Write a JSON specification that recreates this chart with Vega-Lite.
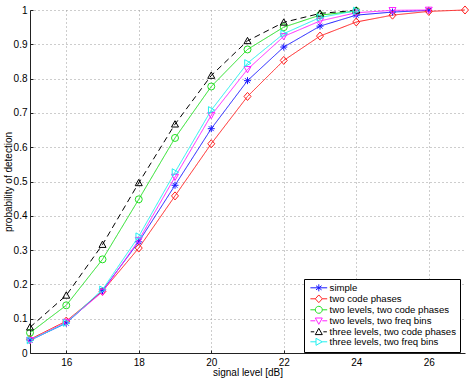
{
  "$schema": "https://vega.github.io/schema/vega-lite/v6.json",
  "width": 435,
  "height": 343,
  "autosize": "none",
  "padding": {"left": 30, "top": 10, "right": 9, "bottom": 26},
  "background": "white",
  "config": {
    "view": {"stroke": null},
    "font": "Liberation Sans",
    "axis": {
      "labelFont": "Liberation Sans",
      "titleFont": "Liberation Sans",
      "labelFontSize": 10,
      "titleFontSize": 10,
      "titleFontWeight": "normal",
      "labelColor": "#000",
      "titleColor": "#000",
      "domainColor": "#222",
      "tickColor": "#222",
      "gridColor": "#9a9a9a",
      "gridDash": [1, 3],
      "gridWidth": 1
    },
    "legend": {"labelFont": "Liberation Sans"}
  },
  "data": {
    "values": [
      {"s": "simple", "x": 15, "y": 0.037}, {"s": "simple", "x": 16, "y": 0.087}, {"s": "simple", "x": 17, "y": 0.182}, {"s": "simple", "x": 18, "y": 0.324}, {"s": "simple", "x": 19, "y": 0.489}, {"s": "simple", "x": 20, "y": 0.654}, {"s": "simple", "x": 21, "y": 0.794}, {"s": "simple", "x": 22, "y": 0.892}, {"s": "simple", "x": 23, "y": 0.953}, {"s": "simple", "x": 24, "y": 0.985}, {"s": "simple", "x": 25, "y": 0.994}, {"s": "simple", "x": 26, "y": 0.999},
      {"s": "two code phases", "x": 15, "y": 0.040}, {"s": "two code phases", "x": 16, "y": 0.093}, {"s": "two code phases", "x": 17, "y": 0.180}, {"s": "two code phases", "x": 18, "y": 0.306}, {"s": "two code phases", "x": 19, "y": 0.458}, {"s": "two code phases", "x": 20, "y": 0.610}, {"s": "two code phases", "x": 21, "y": 0.748}, {"s": "two code phases", "x": 22, "y": 0.853}, {"s": "two code phases", "x": 23, "y": 0.924}, {"s": "two code phases", "x": 24, "y": 0.965}, {"s": "two code phases", "x": 25, "y": 0.985}, {"s": "two code phases", "x": 26, "y": 0.996}, {"s": "two code phases", "x": 27, "y": 1.0},
      {"s": "two levels, two code phases", "x": 15, "y": 0.059}, {"s": "two levels, two code phases", "x": 16, "y": 0.139}, {"s": "two levels, two code phases", "x": 17, "y": 0.273}, {"s": "two levels, two code phases", "x": 18, "y": 0.448}, {"s": "two levels, two code phases", "x": 19, "y": 0.627}, {"s": "two levels, two code phases", "x": 20, "y": 0.777}, {"s": "two levels, two code phases", "x": 21, "y": 0.885}, {"s": "two levels, two code phases", "x": 22, "y": 0.950}, {"s": "two levels, two code phases", "x": 23, "y": 0.985}, {"s": "two levels, two code phases", "x": 24, "y": 0.997},
      {"s": "two levels, two freq bins", "x": 15, "y": 0.037}, {"s": "two levels, two freq bins", "x": 16, "y": 0.090}, {"s": "two levels, two freq bins", "x": 17, "y": 0.178}, {"s": "two levels, two freq bins", "x": 18, "y": 0.329}, {"s": "two levels, two freq bins", "x": 19, "y": 0.513}, {"s": "two levels, two freq bins", "x": 20, "y": 0.693}, {"s": "two levels, two freq bins", "x": 21, "y": 0.827}, {"s": "two levels, two freq bins", "x": 22, "y": 0.923}, {"s": "two levels, two freq bins", "x": 23, "y": 0.968}, {"s": "two levels, two freq bins", "x": 24, "y": 0.992}, {"s": "two levels, two freq bins", "x": 25, "y": 0.999}, {"s": "two levels, two freq bins", "x": 26, "y": 1.0},
      {"s": "three levels, two code phases", "x": 15, "y": 0.075}, {"s": "three levels, two code phases", "x": 16, "y": 0.168}, {"s": "three levels, two code phases", "x": 17, "y": 0.316}, {"s": "three levels, two code phases", "x": 18, "y": 0.496}, {"s": "three levels, two code phases", "x": 19, "y": 0.667}, {"s": "three levels, two code phases", "x": 20, "y": 0.809}, {"s": "three levels, two code phases", "x": 21, "y": 0.910}, {"s": "three levels, two code phases", "x": 22, "y": 0.964}, {"s": "three levels, two code phases", "x": 23, "y": 0.990}, {"s": "three levels, two code phases", "x": 24, "y": 0.999},
      {"s": "three levels, two freq bins", "x": 15, "y": 0.037}, {"s": "three levels, two freq bins", "x": 16, "y": 0.088}, {"s": "three levels, two freq bins", "x": 17, "y": 0.185}, {"s": "three levels, two freq bins", "x": 18, "y": 0.340}, {"s": "three levels, two freq bins", "x": 19, "y": 0.527}, {"s": "three levels, two freq bins", "x": 20, "y": 0.708}, {"s": "three levels, two freq bins", "x": 21, "y": 0.845}, {"s": "three levels, two freq bins", "x": 22, "y": 0.931}, {"s": "three levels, two freq bins", "x": 23, "y": 0.978}, {"s": "three levels, two freq bins", "x": 24, "y": 0.998}
    ]
  },
  "encoding": {
    "x": {
      "field": "x", "type": "quantitative",
      "scale": {"domain": [15, 27], "nice": false, "zero": false},
      "axis": {"values": [16, 18, 20, 22, 24, 26], "title": "signal level [dB]", "grid": true, "tickSize": -3, "labelPadding": 7, "titlePadding": 0}
    },
    "y": {
      "field": "y", "type": "quantitative",
      "scale": {"domain": [0, 1], "nice": false},
      "axis": {"values": [0, 0.1, 0.2, 0.3, 0.4, 0.5, 0.6, 0.7, 0.8, 0.9, 1], "format": ".1~f", "title": "probability of detection", "grid": true, "tickSize": -3, "labelPadding": 6, "titlePadding": 0}
    }
  },
  "layer": [
    {
      "mark": {"type": "line", "strokeWidth": 1},
      "encoding": {
        "color": {"field": "s", "type": "nominal", "legend": null,
          "scale": {"domain": ["simple", "two code phases", "two levels, two code phases", "two levels, two freq bins", "three levels, two code phases", "three levels, two freq bins"],
                    "range": ["#1a1aff", "#ff2020", "#22e022", "#ff22ff", "#000000", "#22f0f0"]}},
        "strokeDash": {"field": "s", "type": "nominal", "legend": null,
          "scale": {"domain": ["simple", "two code phases", "two levels, two code phases", "two levels, two freq bins", "three levels, two code phases", "three levels, two freq bins"],
                    "range": [[1, 0], [1, 0], [1, 0], [1, 0], [6, 4], [1, 0]]}}
      }
    },
    {
      "mark": {"type": "point", "filled": false, "size": 49, "strokeWidth": 1, "opacity": 1},
      "encoding": {
        "color": {"field": "s", "type": "nominal", "legend": null,
          "scale": {"domain": ["simple", "two code phases", "two levels, two code phases", "two levels, two freq bins", "three levels, two code phases", "three levels, two freq bins"],
                    "range": ["#1a1aff", "#ff2020", "#22e022", "#ff22ff", "#000000", "#22f0f0"]}},
        "shape": {"field": "s", "type": "nominal", "legend": null,
          "scale": {"domain": ["simple", "two code phases", "two levels, two code phases", "two levels, two freq bins", "three levels, two code phases", "three levels, two freq bins"],
                    "range": ["M-1,0L1,0M0,-1L0,1M-0.7,-0.7L0.7,0.7M-0.7,0.7L0.7,-0.7", "M0,-1.15L1,0L0,1.15L-1,0Z", "circle", "M-1,-0.8L1,-0.8L0,1Z", "M-1,0.8L1,0.8L0,-1Z", "M-0.8,-1L-0.8,1L1,0Z"]}}
      }
    },
    {
      "mark": {"type": "point", "filled": false, "size": 49, "strokeWidth": 1, "opacity": 0},
      "encoding": {
        "color": {"field": "s", "type": "nominal",
          "scale": {"domain": ["simple", "two code phases", "two levels, two code phases", "two levels, two freq bins", "three levels, two code phases", "three levels, two freq bins"],
                    "range": ["#1a1aff", "#ff2020", "#22e022", "#ff22ff", "#000000", "#22f0f0"]},
          "legend": {"title": null, "orient": "none", "legendX": 274, "legendY": 269, "strokeColor": "#000", "fillColor": "#fff", "padding": 4, "labelFontSize": 9.6, "labelColor": "#000", "symbolSize": 49, "symbolOpacity": 1, "symbolStrokeWidth": 1, "rowPadding": -2, "labelOffset": 6, "symbolOffset": 6}},
        "shape": {"field": "s", "type": "nominal",
          "scale": {"domain": ["simple", "two code phases", "two levels, two code phases", "two levels, two freq bins", "three levels, two code phases", "three levels, two freq bins"],
                    "range": ["M-2.4,0L2.4,0M0,-1L0,1M-0.8,-0.6L0.8,0.6M-0.8,0.6L0.8,-0.6", "M-2.4,0L-1,0M1,0L2.4,0M0,-1.1L1,0L0,1.1L-1,0Z", "M-2.4,0L-1,0M1,0L2.4,0M1,0A1,1,0,1,1,-1,0A1,1,0,1,1,1,0Z", "M-2.4,0L-1,0M1,0L2.4,0M-1,-0.8L1,-0.8L0,1Z", "M-2.3,0L-1.3,0M1.3,0L2.3,0M-1,0.8L1,0.8L0,-1Z", "M-2.4,0L-0.8,0M1,0L2.4,0M-0.8,-1L-0.8,1L1,0Z"]},
          "legend": {"title": null, "orient": "none", "legendX": 274, "legendY": 269, "strokeColor": "#000", "fillColor": "#fff", "padding": 4, "labelFontSize": 9.6, "labelColor": "#000", "symbolSize": 49, "symbolOpacity": 1, "symbolStrokeWidth": 1, "rowPadding": -2, "labelOffset": 6, "symbolOffset": 6}}
      }
    }
  ],
  "resolve": {"scale": {"color": "independent", "shape": "independent", "strokeDash": "independent"}}
}
